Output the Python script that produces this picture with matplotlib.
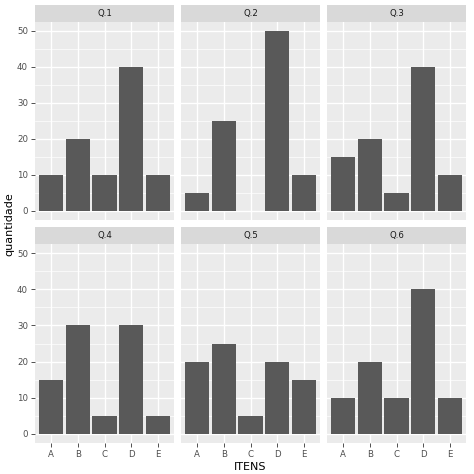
import numpy as np
import matplotlib
matplotlib.use("Agg")
import matplotlib.pyplot as plt

itens = ["A", "B", "C", "D", "E"]
questoes = ["Q.1", "Q.2", "Q.3", "Q.4", "Q.5", "Q.6"]
q1 = [10, 20, 10, 40, 10]
q2 = [5, 25, 0, 50, 10]
q3 = [15, 20, 5, 40, 10]
q4 = [15, 30, 5, 30, 5]
q5 = [20, 25, 5, 20, 15]
q6 = [10, 20, 10, 40, 10]
valores = [q1, q2, q3, q4, q5, q6]

W = H = 474
fig = plt.figure(figsize=(W / 100, H / 100), dpi=100)
fig.patch.set_facecolor("white")

cols = [(35, 174), (181, 320), (327, 466)]
rows = [(5, 22, 220), (227, 244, 443)]
txt = "#4D4D4D"

x = np.arange(1, len(itens) + 1)
for i, (q, vals) in enumerate(zip(questoes, valores)):
    r, c = divmod(i, 3)
    x0, x1 = cols[c]
    s0, p0, p1 = rows[r]
    ax = fig.add_axes([x0 / W, 1 - p1 / H, (x1 - x0) / W, (p1 - p0) / H])
    ax.set_facecolor("#EBEBEB")
    ax.bar(x, vals, width=0.9, color="#595959", edgecolor="none", zorder=3)
    ax.set_xlim(0.4, 5.6)
    ax.set_ylim(-2.5, 52.5)
    ax.set_xticks(x)
    ax.set_yticks([0, 10, 20, 30, 40, 50])
    ax.set_yticks([5, 15, 25, 35, 45], minor=True)
    ax.grid(which="major", color="white", linewidth=1.0, zorder=0)
    ax.grid(which="minor", axis="y", color="white", linewidth=0.5, zorder=0)
    ax.tick_params(which="minor", length=0)
    for sp in ax.spines.values():
        sp.set_visible(False)
    if c == 0:
        ax.tick_params(axis="y", length=3, width=0.6, color="#333333",
                       labelsize=6.2, labelcolor=txt, pad=2)
    else:
        ax.tick_params(axis="y", length=0, labelleft=False)
    if r == 1:
        ax.set_xticklabels(itens)
        ax.tick_params(axis="x", length=3, width=0.6, color="#333333",
                       labelsize=6.2, labelcolor=txt, pad=2)
    else:
        ax.tick_params(axis="x", length=0, labelbottom=False)

    sax = fig.add_axes([x0 / W, 1 - p0 / H, (x1 - x0) / W, (p0 - s0) / H])
    sax.set_facecolor("#D9D9D9")
    sax.set_xticks([])
    sax.set_yticks([])
    for sp in sax.spines.values():
        sp.set_visible(False)
    sax.text(0.5, 0.5, q, ha="center", va="center", fontsize=6.2,
             color="#1A1A1A", transform=sax.transAxes)

fig.text(250 / W, 1 - 467 / H, "ITENS", ha="center", va="center",
         fontsize=8, color="black")
fig.text(9 / W, 1 - 224 / H, "quantidade", ha="center", va="center",
         rotation=90, fontsize=8, color="black")

fig.savefig("out.png", dpi=100)
